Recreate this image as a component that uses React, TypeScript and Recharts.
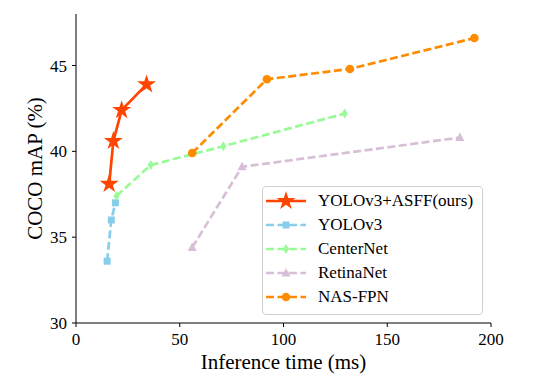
import { LineChart, Line, XAxis, YAxis, Legend, Label } from "recharts";

const asffX = [16, 18, 22, 34];
const asffY = [38.1, 40.6, 42.4, 43.9];
const yoloX = [15, 17, 19];
const yoloY = [33.6, 36.0, 37.0];
const centerX = [19.5, 36, 71, 129.5];
const centerY = [37.4, 39.2, 40.3, 42.2];
const retinaX = [56, 80, 185];
const retinaY = [34.4, 39.1, 40.8];
const nasX = [56, 92, 132, 192];
const nasY = [39.9, 44.2, 44.8, 46.6];

const xTicks = [0, 50, 100, 150, 200];
const yTicks = [30, 35, 40, 45];

const FONT = "'Liberation Serif', 'Times New Roman', serif";

type MarkerKind = "star" | "square" | "diamond" | "triangle" | "circle";

const toPoints = (xs: number[], ys: number[]) => xs.map((x, i) => ({ x, y: ys[i] }));

const series = [
  { name: "YOLOv3+ASFF(ours)", data: toPoints(asffX, asffY), color: "#FF4500", marker: "star" as MarkerKind, dashed: false },
  { name: "YOLOv3", data: toPoints(yoloX, yoloY), color: "#87CEEB", marker: "square" as MarkerKind, dashed: true },
  { name: "CenterNet", data: toPoints(centerX, centerY), color: "#98FB98", marker: "diamond" as MarkerKind, dashed: true },
  { name: "RetinaNet", data: toPoints(retinaX, retinaY), color: "#D8BFD8", marker: "triangle" as MarkerKind, dashed: true },
  { name: "NAS-FPN", data: toPoints(nasX, nasY), color: "#FF8C00", marker: "circle" as MarkerKind, dashed: true },
];

function starPath(cx: number, cy: number, R: number) {
  const r = R * 0.382;
  const pts: string[] = [];
  for (let i = 0; i < 10; i++) {
    const rad = i % 2 === 0 ? R : r;
    const a = -Math.PI / 2 + (i * Math.PI) / 5;
    pts.push(`${cx + rad * Math.cos(a)},${cy + rad * Math.sin(a)}`);
  }
  return `M${pts.join("L")}Z`;
}

function Marker({ kind, cx, cy, color }: { kind: MarkerKind; cx: number; cy: number; color: string }) {
  switch (kind) {
    case "star":
      return <path d={starPath(cx, cy, 10)} fill={color} />;
    case "square":
      return <rect x={cx - 3.5} y={cy - 3.5} width={7} height={7} fill={color} />;
    case "diamond":
      return <path d={`M${cx},${cy - 5}L${cx + 3},${cy}L${cx},${cy + 5}L${cx - 3},${cy}Z`} fill={color} />;
    case "triangle":
      return <path d={`M${cx},${cy - 5}L${cx + 4.5},${cy + 3.5}L${cx - 4.5},${cy + 3.5}Z`} fill={color} />;
    default:
      return <circle cx={cx} cy={cy} r={4.3} fill={color} />;
  }
}

function renderLegend() {
  return (
    <div
      style={{
        width: 221,
        height: 129,
        boxSizing: "border-box",
        border: "1px solid #d0d0d0",
        borderRadius: 4,
        background: "rgba(255,255,255,0.8)",
        padding: "2px 0 0 3px",
        fontFamily: FONT,
        fontSize: 17,
        color: "#000",
      }}
    >
      {series.map((s) => (
        <div key={s.name} style={{ display: "flex", alignItems: "center", height: 24 }}>
          <svg width={40} height={24} style={{ display: "block" }}>
            <line
              x1={0}
              y1={12}
              x2={40}
              y2={12}
              stroke={s.color}
              strokeWidth={2.7}
              strokeDasharray={s.dashed ? "8 3.5" : undefined}
            />
            <Marker kind={s.marker} cx={20} cy={12} color={s.color} />
          </svg>
          <span style={{ marginLeft: 12, whiteSpace: "nowrap" }}>{s.name}</span>
        </div>
      ))}
    </div>
  );
}

export default function App() {
  return (
    <div style={{ position: "absolute", left: 0, top: 0, background: "#fff" }}>
      <LineChart
        width={542}
        height={377}
        margin={{ top: 14, right: 51, bottom: 4, left: 36 }}
        style={{ fontFamily: FONT }}
      >
        <XAxis
          type="number"
          dataKey="x"
          domain={[0, 200]}
          ticks={xTicks}
          height={50}
          axisLine={{ stroke: "#000", strokeWidth: 1 }}
          tickLine={{ stroke: "#000", strokeWidth: 1 }}
          tickSize={4}
          tickMargin={6}
          tick={{ fill: "#000", fontSize: 17, fontFamily: FONT }}
          label={
            <Label
              content={({ viewBox }: any) => (
                <text
                  x={viewBox.x + viewBox.width / 2}
                  y={viewBox.y + 46}
                  textAnchor="middle"
                  fontSize={21}
                  fontFamily={FONT}
                  fill="#000"
                >
                  Inference time (ms)
                </text>
              )}
            />
          }
        />
        <YAxis
          type="number"
          dataKey="y"
          domain={[30, 48]}
          ticks={yTicks}
          width={40}
          axisLine={{ stroke: "#000", strokeWidth: 1 }}
          tickLine={{ stroke: "#000", strokeWidth: 1 }}
          tickSize={4}
          tickMargin={5}
          tick={{ fill: "#000", fontSize: 17, fontFamily: FONT }}
          label={
            <Label
              content={({ viewBox }: any) => {
                const x = viewBox.x - 1;
                const y = viewBox.y + viewBox.height / 2;
                return (
                  <text
                    x={x}
                    y={y}
                    textAnchor="middle"
                    dominantBaseline="central"
                    transform={`rotate(-90, ${x}, ${y})`}
                    fontSize={21}
                    fontFamily={FONT}
                    fill="#000"
                  >
                    COCO mAP (%)
                  </text>
                );
              }}
            />
          }
        />
        <Legend
          layout="vertical"
          align="center"
          verticalAlign="middle"
          content={renderLegend}
          wrapperStyle={{ left: 262, top: 186, width: 221, height: 129 }}
        />
        {series.map((s) => (
          <Line
            key={s.name}
            name={s.name}
            data={s.data}
            dataKey="y"
            type="linear"
            stroke={s.color}
            strokeWidth={2.7}
            strokeDasharray={s.dashed ? "8 3.5" : undefined}
            isAnimationActive={false}
            dot={(p: any) => <Marker key={`${s.name}-${p.index}`} kind={s.marker} cx={p.cx} cy={p.cy} color={s.color} />}
            activeDot={false}
          />
        ))}
      </LineChart>
    </div>
  );
}
